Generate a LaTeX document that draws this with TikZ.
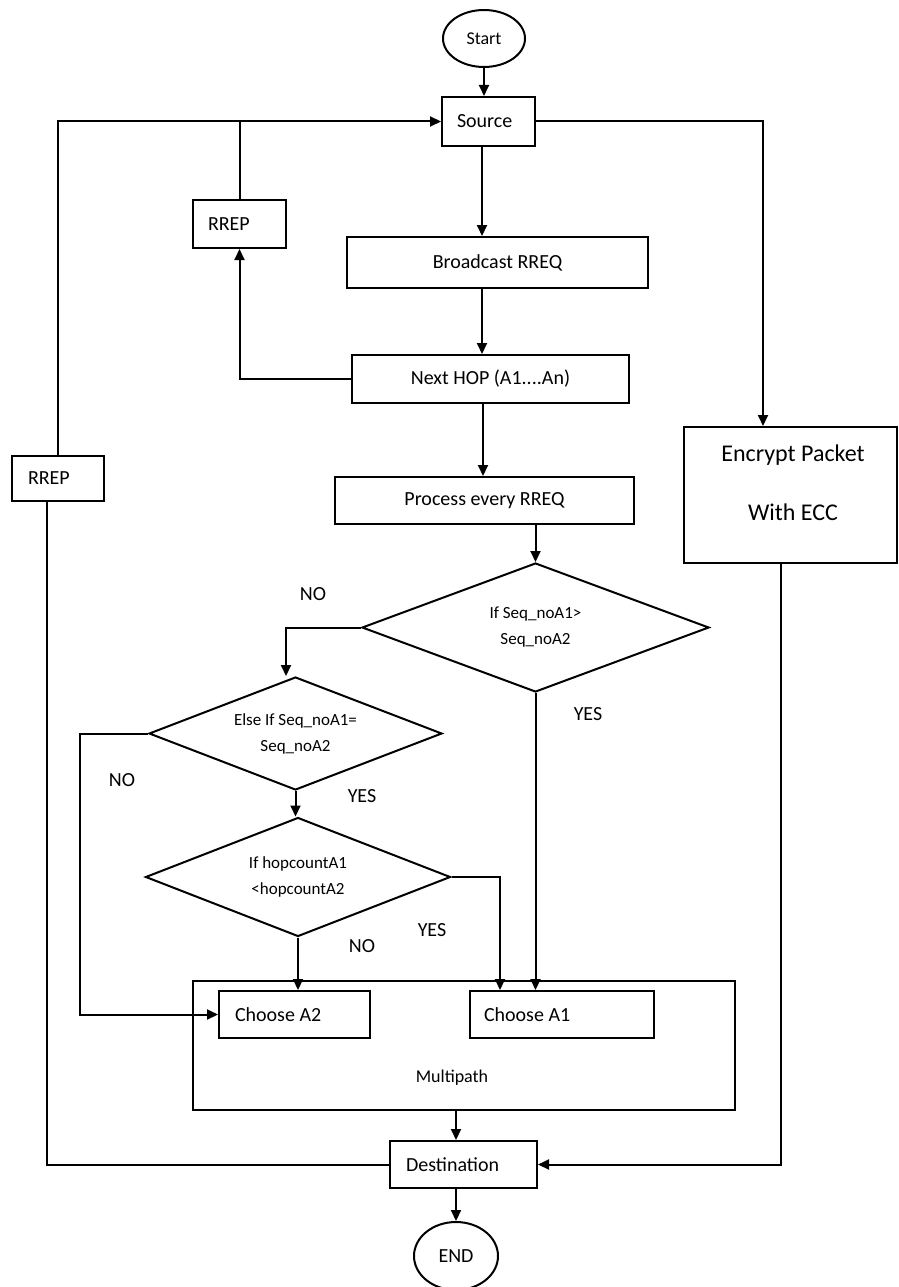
\documentclass[tikz,border=0pt]{standalone}
\usepackage{fontspec}
\setmainfont{Carlito}
\usetikzlibrary{shapes.geometric,arrows.meta}
\begin{document}
\begin{tikzpicture}[x=1pt,y=-1pt,
  box/.style={draw,rectangle,line width=2pt,inner sep=0pt,font=\fontsize{20}{24}\selectfont},
  dia/.style={draw,diamond,aspect=2.6,line width=2pt,inner sep=0pt,align=center,font=\fontsize{17}{26}\selectfont},
  term/.style={draw,ellipse,line width=2pt,inner sep=0pt,font=\fontsize{18}{21}\selectfont},
  lbl/.style={font=\fontsize{20}{24}\selectfont,inner sep=0pt},
  big/.style={font=\fontsize{24}{28}\selectfont,inner sep=0pt},
  conn/.style={line width=2pt},
  arr/.style={conn,-{Triangle[length=11pt,width=10pt]}}
]
\useasboundingbox (0,0) rectangle (899,1287);
\clip (0,0) rectangle (899,1287);

% helper x positions
\coordinate (x47) at (47,0);
\coordinate (x80) at (80,0);
\coordinate (x286) at (286,0);
\coordinate (x482) at (482,0);
\coordinate (x483) at (483,0);
\coordinate (x500) at (500,0);
\coordinate (x763) at (763,0);
\coordinate (x781) at (781,0);

% nodes
\node[term,minimum width=82pt,minimum height=57pt] (start) at (484,38.5) {Start};
\node[box,minimum width=93pt,minimum height=49pt] (source) at (488.5,121.5) {\makebox[63pt][l]{Source}};
\node[box,minimum width=93pt,minimum height=48pt] (rrep1) at (239.5,224) {\makebox[63pt][l]{RREP}};
\node[box,minimum width=301pt,minimum height=51pt] (broadcast) at (497.5,262.5) {Broadcast RREQ};
\node[box,minimum width=277pt,minimum height=48pt] (nexthop) at (490.5,379) {Next HOP (A1....An)};
\node[box,minimum width=92pt,minimum height=45pt] (rrep2) at (58,478.5) {\makebox[60pt][l]{RREP}};
\node[box,minimum width=299pt,minimum height=47pt] (process) at (484.5,500.5) {Process every RREQ};
\node[box,minimum width=213pt,minimum height=136pt] (encrypt) at (790.5,495) {};
\node[big] at (793,455) {Encrypt Packet};
\node[big] at (793,512) {With ECC};

\node[dia,minimum width=347pt,minimum height=129pt] (d1) at (535.5,627.5) {If Seq\_noA1>\\Seq\_noA2};
\node[dia,minimum width=293pt,minimum height=113pt] (d2) at (295.5,733.5) {Else If Seq\_noA1=\\Seq\_noA2};
\node[dia,minimum width=305pt,minimum height=119pt] (d3) at (298,877) {If hopcountA1\\<hopcountA2};

\node[box,minimum width=542pt,minimum height=129pt] (multipath) at (464,1045.5) {};
\node[font=\fontsize{18}{21}\selectfont,inner sep=0pt] at (452,1078) {Multipath};
\node[box,minimum width=151pt,minimum height=47pt] (choosea2) at (294.5,1014.5) {\makebox[119pt][l]{Choose A2}};
\node[box,minimum width=184pt,minimum height=47pt] (choosea1) at (562,1014.5) {\makebox[156pt][l]{Choose A1}};
\node[box,minimum width=147pt,minimum height=47pt] (destination) at (463.5,1164.5) {\makebox[115pt][l]{Destination}};
\node[term,minimum width=84pt,minimum height=68pt,font=\fontsize{20}{24}\selectfont] (end) at (456,1256) {END};

% labels
\node[lbl] at (313,594) {NO};
\node[lbl] at (588,714) {YES};
\node[lbl] at (122,780) {NO};
\node[lbl] at (362,796) {YES};
\node[lbl] at (432,930) {YES};
\node[lbl] at (362,946) {NO};

% connectors
\draw[arr] (start.south) -- (start.south |- source.north);
\draw[arr] (source.south -| x482) -- (broadcast.north -| x482);
\draw[arr] (broadcast.south -| x482) -- (nexthop.north -| x482);
\draw[arr] (nexthop.south -| x483) -- (process.north -| x483);
\draw[arr] (process.south -| d1.north) -- (d1.north);
\draw[arr] (nexthop.west) -| (rrep1.south);
\draw[conn] (rrep1.north) -- (rrep1.north |- source.west);
\draw[arr] (rrep2.north) |- (source.west);
\draw[arr] (source.east) -| (x763 |- encrypt.north);
\draw[arr] (d1.west) -| (x286 |- d2.north);
\draw[arr] (d1.south) -- (d1.south |- choosea1.north);
\draw[arr] (d2.west) -| (x80 |- choosea2.west) -- (choosea2.west);
\draw[arr] (d2.south) -- (d2.south |- d3.north);
\draw[arr] (d3.east) -| (x500 |- choosea1.north);
\draw[arr] (d3.south) -- (d3.south |- choosea2.north);
\draw[arr] (multipath.south -| end.north) -- (destination.north -| end.north);
\draw[arr] (destination.south -| end.north) -- (end.north);
\draw[conn] (rrep2.south -| x47) |- (destination.west);
\draw[arr] (encrypt.south -| x781) |- (destination.east);
\end{tikzpicture}
\end{document}
